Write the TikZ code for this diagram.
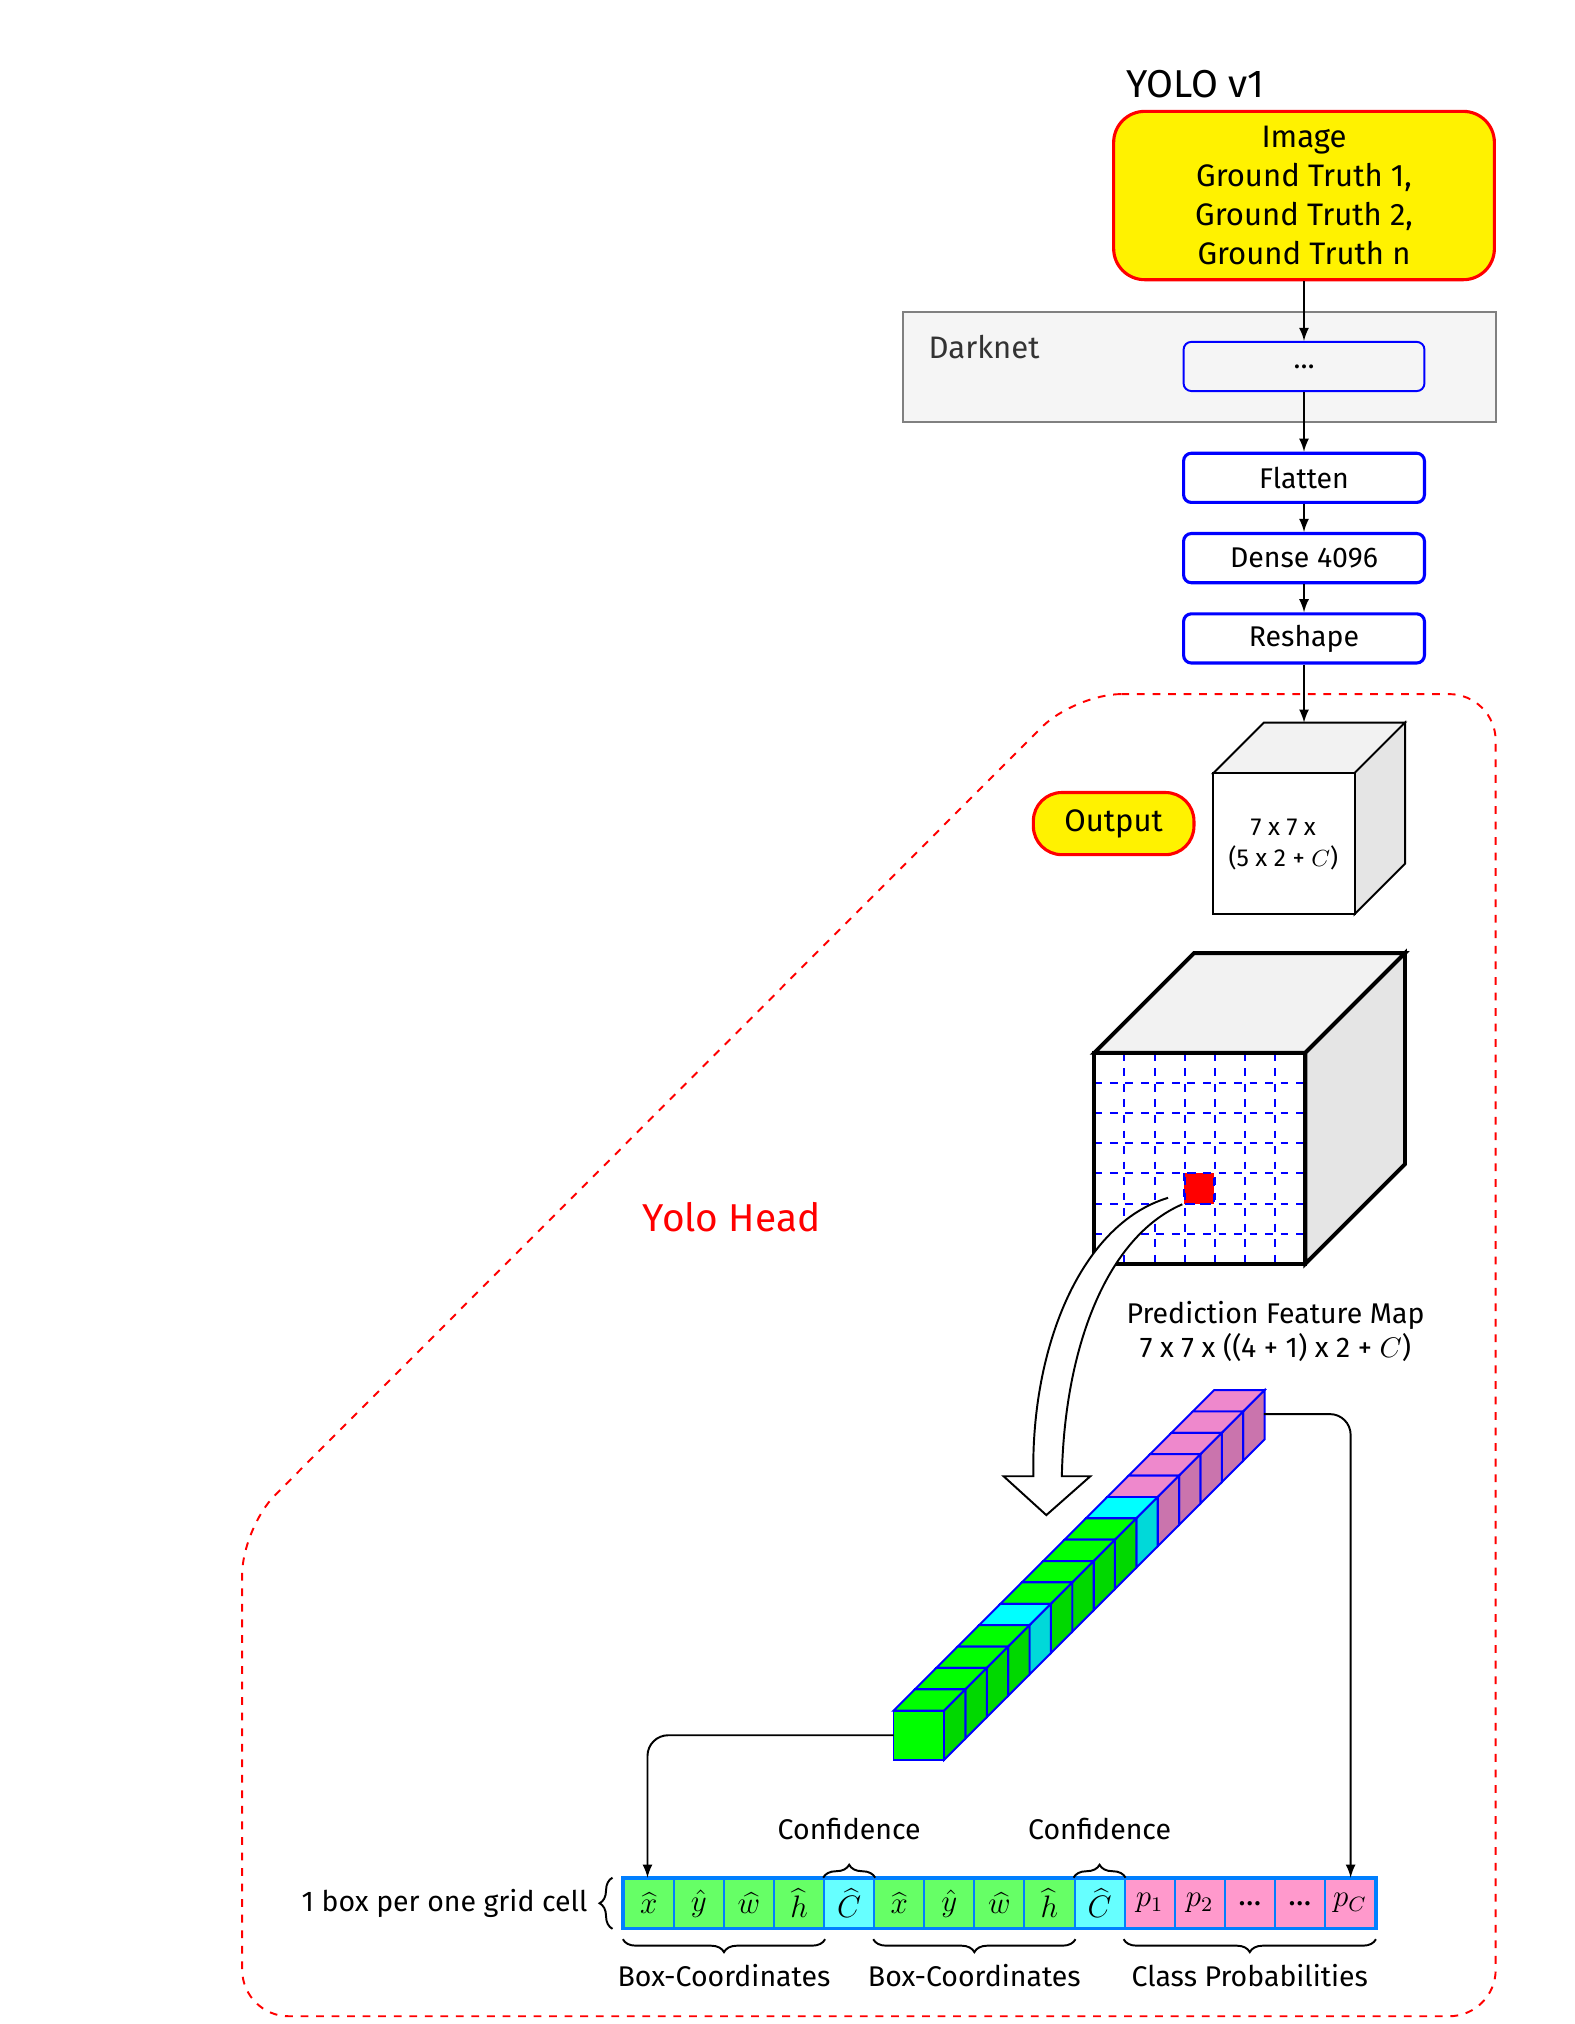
\documentclass[tikz,border=0pt]{standalone}
\usepackage{fontspec}
\setmainfont{Fira Sans}
\usetikzlibrary{positioning,decorations.pathreplacing,calc}
\definecolor{gcell}{HTML}{66FF66}
\definecolor{ccell}{HTML}{66FFFF}
\definecolor{pcell}{HTML}{FF99CC}
\definecolor{vgreen}{HTML}{00FF00}
\definecolor{vcyan}{HTML}{00FFFF}
\definecolor{vpink}{HTML}{EE88CC}
\definecolor{cellblue}{HTML}{007FFF}
\tikzset{every picture/.style={line width=0.75pt}}
\tikzset{
  layer/.style={draw=blue,line width=1.2pt,rounded corners=3pt,minimum width=93pt,minimum height=19pt,inner sep=0pt,font=\fontsize{11}{13}\selectfont},
  yellowbox/.style={draw=red,line width=1.2pt,fill=yellow,rounded corners=12pt,align=center,inner sep=0pt},
  cell/.style={draw=cellblue,minimum width=19.33pt,minimum height=19pt,inner sep=0pt,anchor=north west,font=\fontsize{12}{14}\selectfont},
  lbl/.style={font=\fontsize{11}{13}\selectfont},
  brc/.style={decorate,decoration={brace,amplitude=5pt}},
  flow/.style={-latex}
}
\begin{document}
\begin{tikzpicture}[x=0.5pt,y=-0.5pt]
\useasboundingbox (0,0) rectangle (1216,1563);

% title and input
\node[font=\fontsize{15}{17}\selectfont] (title) at (923,65) {YOLO v1};
\node[yellowbox,minimum width=147pt,minimum height=65pt,font=\fontsize{12}{15}\selectfont] (img) at (1007,151) {Image\\Ground Truth 1,\\Ground Truth 2,\\Ground Truth n};

% backbone
\draw[draw=gray,fill=black!4] (697,241) rectangle (1155,326);
\node[lbl,font=\fontsize{12}{14}\selectfont,text=black!80] (dk) at (760,268) {Darknet};
\node[layer,line width=0.75pt] (dots) at (1007,283) {\dots};
\node[layer] (flat) at (1007,369) {Flatten};
\node[layer] (dense) at (1007,431) {Dense 4096};
\node[layer] (resh) at (1007,493) {Reshape};
\draw[flow] (img) -- (dots);
\draw[flow] (dots) -- (flat);
\draw[flow] (flat) -- (dense);
\draw[flow] (dense) -- (resh);

% head region
\draw[red,dashed,rounded corners=18pt] (830,536) -- (1155,536) -- (1155,1557) -- (187,1557) -- (187,1180) -- cycle;
\node[text=red,font=\fontsize{15}{17}\selectfont] (head) at (565,940) {Yolo Head};

% small output cube
\draw[fill=black!5] (937,597) -- (976,558) -- (1085,558) -- (1046,597) -- cycle;
\draw[fill=black!10] (1046,597) -- (1085,558) -- (1085,667) -- (1046,706) -- cycle;
\draw[fill=white] (937,597) rectangle (1046,706);
\coordinate (cubetop) at (1007,558);
\draw[flow] (resh) -- (cubetop);
\node[align=center,font=\fontsize{9.5}{12}\selectfont] (outdim) at (991,652) {7 x 7 x\\(5 x 2 + $C$)};
\node[yellowbox,rounded corners=11pt,minimum width=62pt,minimum height=24pt,font=\fontsize{12}{14}\selectfont] (out) at (860,636) {Output};

% prediction feature map
\draw[line width=1.5pt,fill=black!5] (845,813) -- (922,736) -- (1085,736) -- (1008,813) -- cycle;
\draw[line width=1.5pt,fill=black!10] (1008,813) -- (1085,736) -- (1085,899) -- (1008,976) -- cycle;
\draw[fill=white] (845,813) rectangle (1008,976);
\fill[red] (914.3,906.1) rectangle (937.6,929.4);
\foreach \k in {1,...,6}{
  \draw[blue,dashed] ({845+\k*23.29},813) -- ({845+\k*23.29},976);
  \draw[blue,dashed] (845,{813+\k*23.29}) -- (1008,{813+\k*23.29});
}
\draw[blue,dashed] (914.3,906.1) rectangle (937.6,929.4);
\draw[line width=1.5pt] (845,813) rectangle (1008,976);
\node[lbl,align=center] (pfm) at (985,1028) {Prediction Feature Map\\7 x 7 x ((4 + 1) x 2 + $C$)};

% hollow curved arrow
\draw[fill=white] (902,925) .. controls (835,945) and (796,1040) .. (798,1140) -- (775,1140) -- (808,1170) -- (842,1140) -- (820,1140) .. controls (822,1040) and (855,955) .. (913,930);

% vector of cells
\foreach \i/\c in {14/vpink,13/vpink,12/vpink,11/vpink,10/vpink,9/vcyan,8/vgreen,7/vgreen,6/vgreen,5/vgreen,4/vcyan,3/vgreen,2/vgreen,1/vgreen,0/vgreen}{
  \begin{scope}[shift={({690+16.5*\i},{1321-16.5*\i})}]
    \draw[blue,fill=\c] (0,0) -- (16.5,-16.5) -- (55.5,-16.5) -- (39,0) -- cycle;
    \draw[blue,fill=\c!85!black] (39,0) -- (55.5,-16.5) -- (55.5,21.5) -- (39,38) -- cycle;
    \draw[blue,fill=\c] (0,0) rectangle (39,38);
  \end{scope}
}
\coordinate (vfirst) at (690,1340);
\coordinate (vlast) at (976,1092);

% flattened strip
\foreach \i/\c/\t in {0/gcell/$\widehat{x}$,1/gcell/$\hat{y}$,2/gcell/$\widehat{w}$,3/gcell/$\widehat{h}$,4/ccell/$\widehat{C}$,5/gcell/$\widehat{x}$,6/gcell/$\hat{y}$,7/gcell/$\widehat{w}$,8/gcell/$\widehat{h}$,9/ccell/$\widehat{C}$,10/pcell/$p_1$,11/pcell/$p_2$,12/pcell/\ldots,13/pcell/\ldots,14/pcell/$p_C$}{
  \node[cell,fill=\c] (c\i) at ({481+38.67*\i},1450) {\t};
}
\draw[cellblue,line width=1.2pt] (c0.north west) rectangle (c14.south east);
\draw[flow,rounded corners=8pt] (vfirst) -- (500,1340) -- (c0.north -| 500,0);
\draw[flow,rounded corners=8pt] (vlast) -- (1043,1092) -- (c14.north -| 1043,0);

\draw[brc] ($(c0.south west)+(-8,0)$) -- ($(c0.north west)+(-8,0)$) node[midway,left=6pt,lbl] (boxlbl) {1 box per one grid cell};
\draw[brc] (c4.north west) -- (c4.north east) node[midway,above=11pt,lbl] (conf1) {Confidence};
\draw[brc] (c9.north west) -- (c9.north east) node[midway,above=11pt,lbl] (conf2) {Confidence};
\draw[brc] ($(c3.south east)+(0,8)$) -- ($(c0.south west)+(0,8)$) node[midway,below=6pt,lbl] (bc1) {Box-Coordinates};
\draw[brc] ($(c8.south east)+(0,8)$) -- ($(c5.south west)+(0,8)$) node[midway,below=6pt,lbl] (bc2) {Box-Coordinates};
\draw[brc] ($(c14.south east)+(0,8)$) -- ($(c10.south west)+(0,8)$) node[midway,below=6pt,lbl] (cp) {Class Probabilities};
\end{tikzpicture}
\end{document}
